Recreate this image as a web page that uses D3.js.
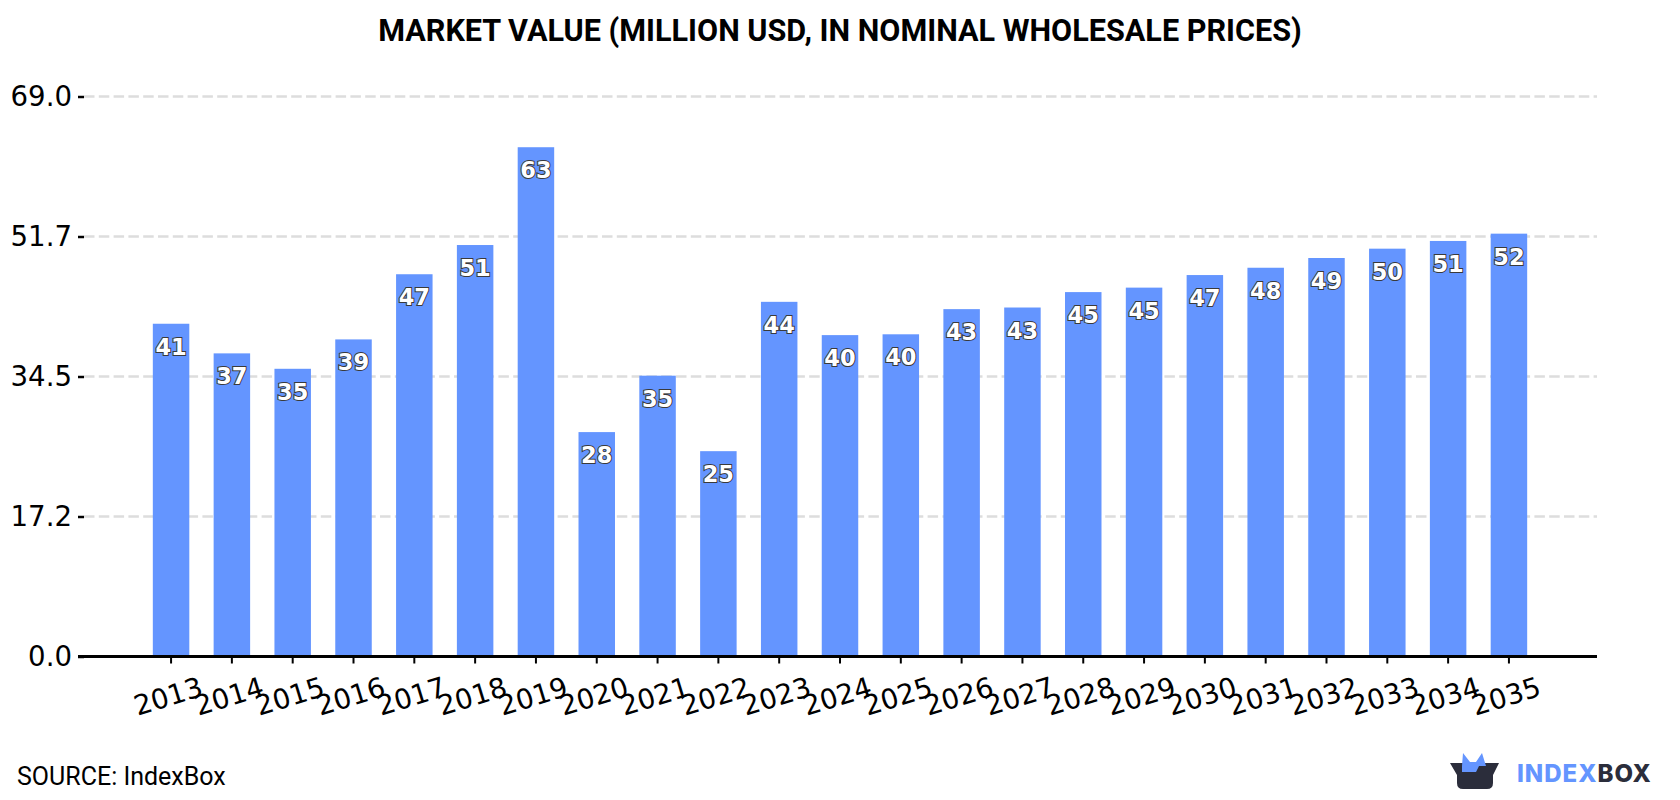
<!DOCTYPE html>
<html>
<head>
<meta charset="utf-8">
<script src="https://cdn.jsdelivr.net/npm/d3@7/dist/d3.min.js"></script>
<style>
html,body{margin:0;padding:0;background:#fff;}
svg{display:block;}
.tick-label{font-family:"DejaVu Sans",sans-serif;font-size:27.6px;fill:#000;}
.value-label{font-family:"DejaVu Sans",sans-serif;font-weight:bold;font-size:22.5px;fill:#fff;stroke:#3a3a3a;stroke-width:2px;paint-order:stroke;text-anchor:middle;}
</style>
</head>
<body>
<svg id="chart" width="1680" height="800"></svg>
<script>
// Market value by year, million USD
const years = ["2013","2014","2015","2016","2017","2018","2019","2020","2021","2022","2023","2024","2025","2026","2027","2028","2029","2030","2031","2032","2033","2034","2035"];
const marketValues = [41.0,37.35,35.45,39.07,47.1,50.7,62.75,27.65,34.6,25.3,43.7,39.6,39.7,42.8,43.0,44.9,45.45,47.0,47.9,49.1,50.25,51.2,52.1];
const valueTicks = [0,17.25,34.5,51.75,69];
const valueTickLabels = ["0.0","17.2","34.5","51.7","69.0"];
const titleText = "MARKET VALUE (MILLION USD, IN NOMINAL WHOLESALE PRICES)";
const sourceText = "SOURCE: IndexBox";

const svg = d3.select("#chart");
const plot = {left:84, right:1597, top:96.5, bottom:656.5};

const x = d3.scaleBand().domain(years).range([plot.left-0.5, plot.right-0.5]).paddingInner(0.4).paddingOuter(1.14);
const y = d3.scaleLinear().domain([0,69]).range([plot.bottom, plot.top]);

svg.append("text").attr("x",840).attr("y",41).attr("text-anchor","middle")
  .style("font-family","Roboto,sans-serif").style("font-weight",700).style("font-size","30.6px").text(titleText);

// Horizontal gridlines
svg.append("g").selectAll("line").data(valueTicks.slice(1)).join("line")
  .attr("x1",plot.left).attr("x2",plot.right)
  .attr("y1",d=>y(d)).attr("y2",d=>y(d))
  .attr("stroke","#dddddd").attr("stroke-width",2.5).attr("stroke-dasharray","10.5,4.3");

// Bars
svg.append("g").selectAll("rect").data(years).join("rect")
  .attr("x",d=>x(d)).attr("width",x.bandwidth())
  .attr("y",(d,i)=>y(marketValues[i]))
  .attr("height",(d,i)=>y(0)-y(marketValues[i]))
  .attr("fill","#6495ff");

// Value labels just inside each bar
svg.append("g").selectAll("text").data(years).join("text")
  .attr("class","value-label")
  .attr("x",d=>x(d)+x.bandwidth()/2)
  .attr("y",(d,i)=>y(marketValues[i])+31)
  .text((d,i)=>d3.format(".0f")(marketValues[i]));

// Left axis
const yAxis = svg.append("g").attr("transform",`translate(${plot.left},0)`)
  .call(d3.axisLeft(y).tickValues(valueTicks).tickSize(6).tickPadding(6)
    .tickFormat((d,i)=>valueTickLabels[i]));
yAxis.select(".domain").remove();
yAxis.selectAll(".tick line").attr("stroke","#000").attr("stroke-width",2.5);
yAxis.selectAll(".tick text").attr("class","tick-label").attr("fill",null);

// Bottom axis with slanted year labels
const xAxis = svg.append("g").attr("transform",`translate(0,${plot.bottom})`)
  .call(d3.axisBottom(x).tickSize(7).tickPadding(4));
xAxis.select(".domain").attr("stroke","#000").attr("stroke-width",3)
  .attr("d",`M${plot.left-6},0H${plot.right}`);
xAxis.selectAll(".tick line").attr("stroke","#000").attr("stroke-width",2);
xAxis.selectAll(".tick text").attr("class","tick-label").attr("fill",null)
  .attr("text-anchor","middle").attr("dy",0).attr("y",0)
  .attr("transform","translate(0,49) rotate(-17)");

svg.append("text").attr("x",17).attr("y",785)
  .style("font-family","Roboto,sans-serif").style("font-size","25px").text(sourceText);

// Brand mark, bottom right
const logo = svg.append("g").attr("transform","translate(1400,720)");
logo.append("path").attr("fill","#2b2d3b").attr("d","M50,43 L99,43 L93,55 L93,63 Q93,69 87,69 L63,69 Q57,69 57,63 L57,55 Z");
logo.append("path").attr("fill","#6495ff").attr("d","M62,46 L63,33 L70,42 L76,42 L82,33 L86,46 L79,46 L76,52 L62,52 Z");
const logoText = logo.append("text").attr("x",117).attr("y",62)
  .style("font-family","Inter,sans-serif").style("font-weight",800).style("font-size","24px").style("letter-spacing","1px");
logoText.append("tspan").attr("fill","#6495ff").text("INDEX");
logoText.append("tspan").attr("fill","#2b2d3b").text("BOX");
</script>
</body>
</html>
